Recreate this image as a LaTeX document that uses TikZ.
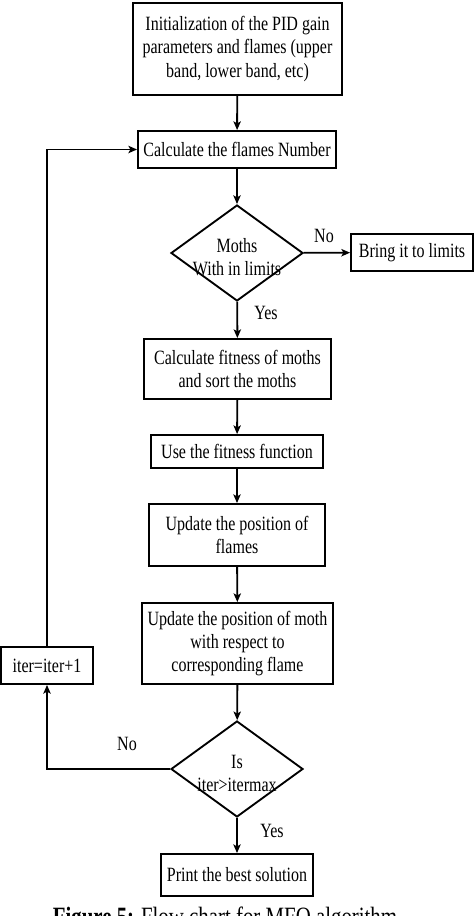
\documentclass[tikz,border=0pt]{standalone}
\usepackage{fontspec}
\setmainfont{Liberation Serif}[FakeStretch=0.79]
\usetikzlibrary{shapes.geometric,arrows.meta}
\begin{document}
\begin{tikzpicture}[x=0.75pt,y=-0.75pt,
  every node/.style={font=\fontsize{15.2}{17.3}\selectfont},
  box/.style={draw,line width=1.4pt,rectangle,inner sep=0pt,align=center},
  dec/.style={draw,line width=1.4pt,diamond,inner sep=0pt,minimum width=99pt,minimum height=72pt},
  flow/.style={line width=1.4pt,-{Stealth[length=6.5pt,width=5.5pt,inset=1.5pt]}},
  lbl/.style={inner sep=0pt}]
\useasboundingbox (0,0) rectangle (474,916);
\node[box,minimum width=156.75pt,minimum height=69pt] (init) at (237.5,49)
  {Initialization of the PID gain\\parameters and flames (upper\\band, lower band, etc)};
\node[box,minimum width=148.5pt,minimum height=27.75pt] (calc) at (237,149.5)
  {Calculate the flames Number};
\node[dec,label={[align=center,font=\fontsize{15.2}{17.3}\selectfont,yshift=-3pt]center:Moths\\With in limits}] (d1) at (237,253) {};
\node[box,minimum width=91.5pt,minimum height=27.75pt] (bring) at (412,252.5)
  {Bring it to limits};
\node[box,minimum width=140.25pt,minimum height=45pt] (fit) at (237.5,369)
  {Calculate fitness of moths\\and sort the moths};
\node[box,minimum width=129pt,minimum height=24.75pt] (use) at (237,451.5)
  {Use the fitness function};
\node[box,minimum width=132pt,minimum height=46.5pt] (flam) at (237,535)
  {Update the position of\\flames};
\node[box,minimum width=143.25pt,minimum height=60.75pt] (moth) at (237.5,643.5)
  {Update the position of moth\\with respect to\\corresponding flame};
\node[box,minimum width=69pt,minimum height=27.75pt] (iter) at (47,665.5)
  {iter=iter+1};
\node[dec,label={[align=center,font=\fontsize{15.2}{17.3}\selectfont,yshift=-3pt]center:Is\\iter>itermax}] (d2) at (237,769) {};
\node[box,minimum width=114pt,minimum height=31.5pt] (print) at (237,875)
  {Print the best solution};
\node[lbl] (no1) at (324,236) {No};
\node[lbl] (yes1) at (266,313) {Yes};
\node[lbl] (no2) at (127,744) {No};
\node[lbl] (yes2) at (272,831) {Yes};
\node[lbl,anchor=base,font=\fontsize{19.8}{22}\selectfont] (cap) at (225,925)
  {\textbf{Figure 5:} Flow chart for MFO algorithm};
\draw[flow] (init) -- (calc);
\draw[flow] (calc) -- (d1);
\draw[flow] (d1) -- (bring);
\draw[flow] (d1) -- (fit);
\draw[flow] (fit) -- (use);
\draw[flow] (use) -- (flam);
\draw[flow] (flam) -- (moth);
\draw[flow] (moth) -- (d2);
\draw[flow] (d2) -- (print);
\draw[flow] (d2.west) -| (iter.south);
\draw[flow] (iter.north) |- (calc.west);
\end{tikzpicture}
\end{document}
